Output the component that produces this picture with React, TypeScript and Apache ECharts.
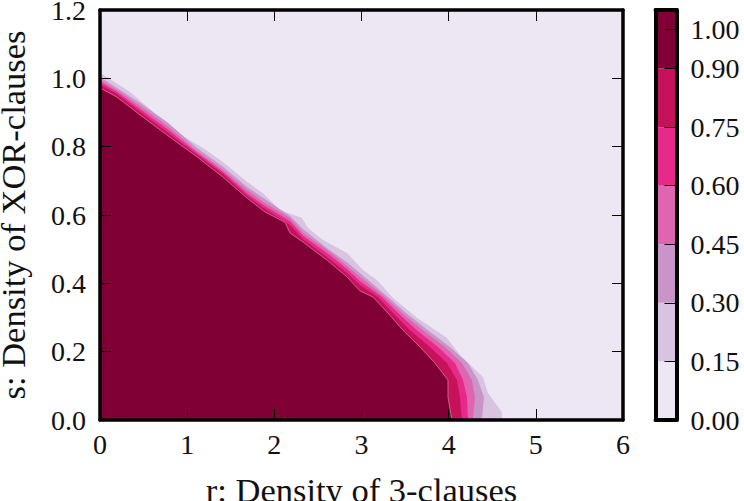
import React, { useEffect, useRef } from "react";
import * as echarts from "echarts";

const xTicks = [0, 1, 2, 3, 4, 5, 6];
const yTicks = [0, 0.2, 0.4, 0.6, 0.8, 1.0, 1.2];
const cbarTicks = [0, 0.15, 0.3, 0.45, 0.6, 0.75, 0.9, 1.0];
const cbarBands = [0.15, 0.15, 0.15, 0.15, 0.15, 0.15, 0.15];
const bandColors = ["#ede7f3", "#d8c4e0", "#c994c7", "#df65b0", "#e7298a", "#c6125a", "#800035"];

const level015: number[][] = [[0,1.016],[0.344,0.960],[0.654,0.893],[0.952,0.831],[1.181,0.796],[1.411,0.755],[1.686,0.697],[1.870,0.664],[2.065,0.615],[2.317,0.591],[2.386,0.562],[2.558,0.527],[2.833,0.489],[3.017,0.439],[3.177,0.410],[3.361,0.357],[3.636,0.299],[3.980,0.240],[4.129,0.190],[4.393,0.126],[4.450,0.079],[4.611,0.023],[4.611,0]];
const level030: number[][] = [[0,1.004],[0.195,0.972],[0.459,0.928],[0.769,0.872],[1.113,0.796],[1.411,0.741],[1.686,0.682],[1.892,0.647],[2.180,0.597],[2.328,0.559],[2.604,0.503],[2.833,0.462],[2.982,0.430],[3.303,0.360],[3.510,0.313],[3.762,0.263],[4.015,0.214],[4.221,0.167],[4.336,0.117],[4.405,0.067],[4.382,0]];
const level045: number[][] = [[0,0.995],[0.195,0.966],[0.459,0.919],[0.769,0.861],[1.113,0.787],[1.411,0.732],[1.686,0.673],[1.892,0.635],[2.180,0.591],[2.328,0.547],[2.604,0.498],[2.833,0.451],[2.982,0.419],[3.269,0.360],[3.464,0.313],[3.705,0.263],[3.957,0.214],[4.152,0.167],[4.267,0.117],[4.301,0.067],[4.278,0]];
const level060: number[][] = [[0,0.989],[0.195,0.960],[0.459,0.910],[0.769,0.852],[1.113,0.782],[1.411,0.726],[1.686,0.664],[1.892,0.626],[2.180,0.582],[2.328,0.539],[2.604,0.489],[2.833,0.442],[2.982,0.407],[3.235,0.360],[3.418,0.313],[3.636,0.263],[3.877,0.214],[4.072,0.167],[4.164,0.117],[4.210,0.067],[4.221,0]];
const level075: number[][] = [[0,0.981],[0.195,0.954],[0.459,0.902],[0.769,0.843],[1.113,0.776],[1.411,0.720],[1.686,0.656],[1.892,0.618],[2.180,0.571],[2.328,0.530],[2.604,0.477],[2.833,0.430],[2.982,0.395],[3.189,0.360],[3.361,0.313],[3.556,0.263],[3.785,0.214],[3.980,0.167],[4.095,0.117],[4.129,0.067],[4.152,0]];
const level090: number[][] = [[0,0.972],[0.195,0.945],[0.459,0.893],[0.769,0.834],[1.113,0.770],[1.411,0.711],[1.686,0.650],[1.892,0.609],[2.122,0.579],[2.180,0.547],[2.328,0.521],[2.604,0.468],[2.833,0.419],[2.982,0.378],[3.131,0.360],[3.303,0.313],[3.475,0.263],[3.670,0.214],[3.842,0.167],[3.992,0.117],[3.992,0.067],[4.037,0]];

const levels = [level015, level030, level045, level060, level075, level090];

const FONT = "Liberation Serif";
const INK = "#000";

export default function App() {
  const ref = useRef<HTMLDivElement>(null);
  useEffect(() => {
    if (!ref.current) return;
    const chart = echarts.init(ref.current, undefined, { renderer: "svg" });
    const spine = { show: true, onZero: false, lineStyle: { color: INK, width: 3.5 } };
    const cbarSpine = { show: true, onZero: false, lineStyle: { color: INK, width: 4 } };
    const tick = { show: true, inside: true, length: 11, lineStyle: { color: INK, width: 1 } };
    const label = { color: "#111", fontFamily: FONT, fontSize: 28 };
    const contourSeries = levels.map((data, i) => ({
      type: "line",
      xAxisIndex: 0,
      yAxisIndex: 0,
      data,
      showSymbol: false,
      symbol: "none",
      smooth: false,
      z: 2 + i,
      lineStyle: i === 5 ? { color: "#e77fae", width: 0.7 } : { width: 0 },
      areaStyle: { color: bandColors[i + 1], opacity: 1 },
    }));
    const cbarSeries = cbarBands.map((v, i) => ({
      type: "bar",
      xAxisIndex: 2,
      yAxisIndex: 2,
      stack: "cbar",
      barWidth: "100%",
      data: [v],
      z: 2,
      itemStyle: { color: bandColors[i] },
    }));
    chart.setOption({
      animation: false,
      backgroundColor: "#fff",
      grid: [
        { left: 100, top: 10, width: 523, height: 410, show: true, backgroundColor: bandColors[0], borderWidth: 0, outerBoundsMode: "none" },
        { left: 655.5, top: 10, width: 21, height: 410, outerBoundsMode: "none" },
      ],
      xAxis: [
        {
          type: "value", gridIndex: 0, min: 0, max: 6, interval: 1, z: 10,
          axisLine: spine, axisTick: tick, splitLine: { show: false },
          axisLabel: { ...label, margin: 10, customValues: xTicks },
          name: "r: Density of 3-clauses", nameLocation: "middle", nameGap: 52,
          nameTextStyle: { color: "#111", fontFamily: FONT, fontSize: 34.5 },
        },
        {
          type: "value", gridIndex: 0, position: "top", min: 0, max: 6, interval: 1, z: 10,
          axisLine: spine, axisTick: tick, axisLabel: { show: false }, splitLine: { show: false },
        },
        {
          type: "category", gridIndex: 1, data: ["c"],
          axisLine: cbarSpine, axisTick: { show: false }, axisLabel: { show: false }, z: 10,
        },
        {
          type: "category", gridIndex: 1, position: "top", data: ["c"],
          axisLine: cbarSpine, axisTick: { show: false }, axisLabel: { show: false }, z: 10,
        },
      ],
      yAxis: [
        {
          type: "value", gridIndex: 0, min: 0, max: 1.2, interval: 0.2, z: 10,
          axisLine: spine, axisTick: tick, splitLine: { show: false },
          axisLabel: { ...label, margin: 14, customValues: yTicks, formatter: (v: number) => v.toFixed(1) },
          name: "s: Density of XOR-clauses", nameLocation: "middle", nameGap: 70,
          nameTextStyle: { color: "#111", fontFamily: FONT, fontSize: 34.5 },
        },
        {
          type: "value", gridIndex: 0, position: "right", min: 0, max: 1.2, interval: 0.2, z: 10,
          axisLine: spine, axisTick: tick, axisLabel: { show: false }, splitLine: { show: false },
        },
        {
          type: "value", gridIndex: 1, position: "right", min: 0, max: 1.05, z: 10,
          axisLine: cbarSpine,
          axisTick: { ...tick, length: 12, customValues: cbarTicks },
          splitLine: { show: false },
          axisLabel: { ...label, margin: 14, customValues: cbarTicks, formatter: (v: number) => v.toFixed(2) },
        },
        {
          type: "value", gridIndex: 1, position: "left", min: 0, max: 1.05, z: 10,
          axisLine: cbarSpine, axisTick: { show: false }, axisLabel: { show: false }, splitLine: { show: false },
        },
      ],
      series: [...contourSeries, ...cbarSeries],
    });
    return () => chart.dispose();
  }, []);
  return (
    <div
      ref={ref}
      style={{ position: "absolute", left: 0, top: 0, width: 744, height: 501 }}
    />
  );
}
